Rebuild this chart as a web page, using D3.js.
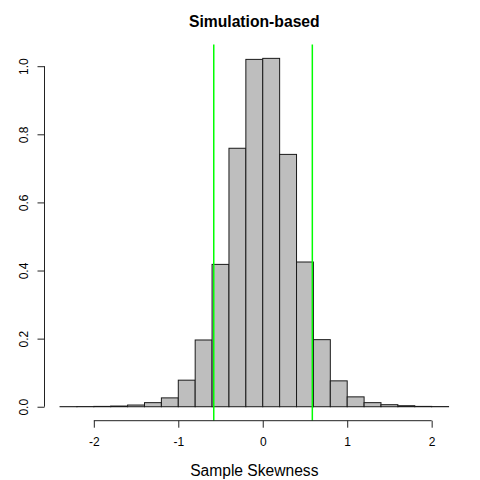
<!DOCTYPE html>
<html>
<head>
<meta charset="utf-8">
<script src="https://cdn.jsdelivr.net/npm/d3@7"></script>
<style>
  body { margin: 0; background: white; }
  text { font-family: "Liberation Sans", Arial, sans-serif; }
</style>
</head>
<body>
<svg width="480" height="480"></svg>
<script>
// histogram bin edges and densities
const breaks = [-2.4, -2.2, -2.0, -1.8, -1.6, -1.4, -1.2, -1.0, -0.8, -0.6, -0.4, -0.2,
                0.0, 0.2, 0.4, 0.6, 0.8, 1.0, 1.2, 1.4, 1.6, 1.8, 2.0, 2.2]
const density = [0.0003, 0.0005, 0.001, 0.002, 0.005, 0.012, 0.026, 0.078, 0.196, 0.418, 0.759, 1.020,
                 1.023, 0.741, 0.425, 0.197, 0.076, 0.029, 0.012, 0.006, 0.003, 0.001, 0.0005]
const critical = [-0.58, 0.587]
const xTicks = [-2, -1, 0, 1, 2]
const yTicks = [0, 0.2, 0.4, 0.6, 0.8, 1.0]

const svg = d3.select('svg')
const width = +svg.attr('width')
const height = +svg.attr('height')

// plot region (R style, 4% padding round the data range)
const plot = {left: 44.5, right: 464.1, top: 44.4, bottom: 420.7}

const xScale = d3.scaleLinear()
    .domain([-2.584, 2.384])
    .range([plot.left, plot.right])

const yScale = d3.scaleLinear()
    .domain([-0.041, 1.064])
    .range([plot.bottom, plot.top])

const bins = density.map((d, i) => ({x0: breaks[i], x1: breaks[i + 1], h: d}))

svg.append('g').selectAll('rect')
    .data(bins)
    .enter()
    .append('rect')
    .attr('x', d => xScale(d.x0))
    .attr('width', d => xScale(d.x1) - xScale(d.x0))
    .attr('y', d => yScale(d.h))
    .attr('height', d => yScale(0) - yScale(d.h))
    .attr('fill', '#bebebe')
    .attr('stroke', '#1a1a1a')
    .attr('stroke-width', 1)

svg.append('g').selectAll('line')
    .data(critical)
    .enter()
    .append('line')
    .attr('x1', d => xScale(d))
    .attr('x2', d => xScale(d))
    .attr('y1', plot.top)
    .attr('y2', plot.bottom)
    .attr('stroke', '#00ff00')
    .attr('stroke-width', 1.5)

// x axis
const xAxis = svg.append('g')
    .attr('transform', `translate(0,${plot.bottom})`)
    .call(d3.axisBottom(xScale)
        .tickValues(xTicks)
        .tickSize(7)
        .tickSizeOuter(0)
        .tickPadding(10)
        .tickFormat(d => String(d)))
xAxis.select('.domain')
    .attr('d', `M${xScale(xTicks[0])},0H${xScale(xTicks[xTicks.length - 1])}`)
xAxis.selectAll('text').attr('font-size', 12).attr('fill', '#000')
    .style('font-family', '"Liberation Sans", Arial, sans-serif')
xAxis.selectAll('line, path').attr('stroke', '#222')

// y axis
const yAxis = svg.append('g')
    .attr('transform', `translate(${plot.left},0)`)
    .call(d3.axisLeft(yScale)
        .tickValues(yTicks)
        .tickSize(7)
        .tickSizeOuter(0)
        .tickFormat(d3.format('.1f')))
yAxis.select('.domain')
    .attr('d', `M0,${yScale(yTicks[0])}V${yScale(yTicks[yTicks.length - 1])}`)
yAxis.selectAll('text')
    .attr('transform', 'rotate(-90)')
    .attr('x', 0)
    .attr('y', -16.5)
    .attr('dy', 0)
    .attr('text-anchor', 'middle')
    .attr('font-size', 12)
    .attr('fill', '#000')
    .style('font-family', '"Liberation Sans", Arial, sans-serif')
yAxis.selectAll('line, path').attr('stroke', '#222')

// title and axis label
svg.append('text')
    .attr('x', (plot.left + plot.right) / 2)
    .attr('y', 27.3)
    .attr('text-anchor', 'middle')
    .attr('font-size', 15.7)
    .attr('font-weight', 'bold')
    .text('Simulation-based')

svg.append('text')
    .attr('x', (plot.left + plot.right) / 2)
    .attr('y', 475.5)
    .attr('text-anchor', 'middle')
    .attr('font-size', 15.6)
    .text('Sample Skewness')
</script>
</body>
</html>
